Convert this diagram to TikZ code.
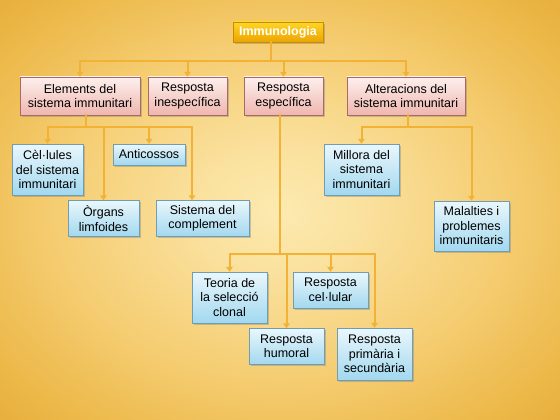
\documentclass[tikz,border=0pt]{standalone}
\usepackage{fontspec}
\setmainfont{Liberation Sans}
\usepackage{xcolor}
\usepackage{tikz}
\usetikzlibrary{arrows.meta, positioning, shadows}
\definecolor{glowin}{HTML}{FCEAB0}
\definecolor{glowsoft}{HTML}{FAE09C}
\definecolor{glowwarm}{HTML}{F5CD72}
\definecolor{glowmid}{HTML}{ECB848}
\definecolor{glowedge}{HTML}{E3A632}
\definecolor{glowout}{HTML}{D6931C}
\definecolor{wire}{HTML}{F2B236}
\definecolor{rootline}{HTML}{C88C00}
\definecolor{roottop}{HTML}{FFD628}
\definecolor{rootbottom}{HTML}{ECA400}
\definecolor{topicline}{HTML}{A86A62}
\definecolor{topictop}{HTML}{FDF0EE}
\definecolor{topicbottom}{HTML}{EFB6AE}
\definecolor{detailline}{HTML}{6F9DB4}
\definecolor{detailtop}{HTML}{EAF7FC}
\definecolor{detailbottom}{HTML}{A2D8EF}
\pgfdeclareradialshading{bgglow}{\pgfpoint{0bp}{0bp}}{color(0bp)=(glowin); color(8bp)=(glowsoft); color(20bp)=(glowwarm); color(31bp)=(glowmid); color(40bp)=(glowedge); color(50bp)=(glowout)}
\tikzset{
    box/.style={rectangle, draw=#1, thin, align=center, inner sep=0pt, font=\fontsize{12.5}{14.5}\selectfont, drop shadow={shadow xshift=1.8pt, shadow yshift=-1.8pt, opacity=.4}},
    root/.style={box=rootline, top color=roottop, bottom color=rootbottom, text=white, font=\fontsize{12.5}{14.5}\selectfont\bfseries},
    topic/.style={box=topicline, top color=topictop, bottom color=topicbottom, minimum height=38pt},
    detail/.style={box=detailline, top color=detailtop, bottom color=detailbottom, minimum width=75pt, minimum height=36pt},
    link/.style={draw=wire, line width=2pt, line cap=rect},
    linkto/.style={link, -{Triangle[width=6.5pt, length=5pt]}}
}
\begin{document}
\begin{tikzpicture}[x=1pt, y=-1pt]
    % Background
    \shade[shading=bgglow] (0,0) rectangle (560,420);
    \useasboundingbox (0,0) rectangle (560,420);

    % Title
    \node[root, minimum width=90pt, minimum height=20pt] (title) at (278,32) {Immunologia};

    % First row
    \node[topic, minimum width=120pt] (elem) at (80,96) {Elements del\\sistema immunitari};
    \node[topic, minimum width=79pt] (inesp) at (187.5,96) {Resposta\\inespecífica};
    \node[topic, minimum width=79pt] (esp) at (283.5,96) {Resposta\\específica};
    \node[topic, minimum width=118pt] (alter) at (406,96) {Alteracions del\\sistema immunitari};

    % Second row
    \node[detail, minimum width=71pt, minimum height=51pt] (cel) at (47.5,169.5) {Cèl·lules\\del sistema\\immunitari};
    \node[detail, minimum width=72pt, minimum height=21pt] (antic) at (149,154.5) {Anticossos};
    \node[detail, minimum height=51pt] (millora) at (361.5,169.5) {Millora del\\sistema\\immunitari};
    \node[detail, minimum width=71pt] (organs) at (103.5,218.5) {Òrgans\\limfoides};
    \node[detail, minimum width=93pt] (compl) at (202.5,218.5) {Sistema del\\complement};
    \node[detail, minimum height=50pt] (malal) at (471.5,226) {Malalties i\\problemes\\immunitaris};

    % Third row
    \node[detail, minimum height=51pt] (teoria) at (229.5,297.5) {Teoria de\\la selecció\\clonal};
    \node[detail] (celular) at (330.5,290) {Resposta\\cel·lular};
    \node[detail] (humoral) at (286.5,346.5) {Resposta\\humoral};
    \node[detail, minimum height=52pt] (primaria) at (374.5,354) {Resposta\\primària i\\secundària};

    % Links from the title
    \draw[link] ([xshift=-7pt]title.south) -- ++(0,19) coordinate (rowa);
    \draw[link] (rowa -| elem) -- (rowa -| alter);
    \foreach \n in {elem, inesp, esp, alter}
        \draw[linkto] (rowa -| \n) -- (\n.north);

    % Links from Elements
    \coordinate (complin) at ([xshift=-10.5pt]compl.north);
    \draw[link] ([xshift=6pt]elem.south) -- ++(0,12) coordinate (rowb);
    \draw[link] (rowb -| cel) -- (rowb -| complin);
    \foreach \n in {cel, organs, antic}
        \draw[linkto] (rowb -| \n) -- (\n.north);
    \draw[linkto] (rowb -| complin) -- (complin);

    % Links from Alteracions
    \draw[link] ([xshift=2pt]alter.south) -- ++(0,12) coordinate (rowc);
    \draw[link] (rowc -| millora) -- (rowc -| malal);
    \foreach \n in {millora, malal}
        \draw[linkto] (rowc -| \n) -- (\n.north);

    % Links from Resposta especifica
    \draw[link] ([xshift=-4pt]esp.south) -- ++(0,139) coordinate (rowd);
    \draw[link] (rowd -| teoria) -- (rowd -| primaria);
    \foreach \n in {teoria, celular, humoral, primaria}
        \draw[linkto] (rowd -| \n) -- (\n.north);
\end{tikzpicture}
\end{document}
